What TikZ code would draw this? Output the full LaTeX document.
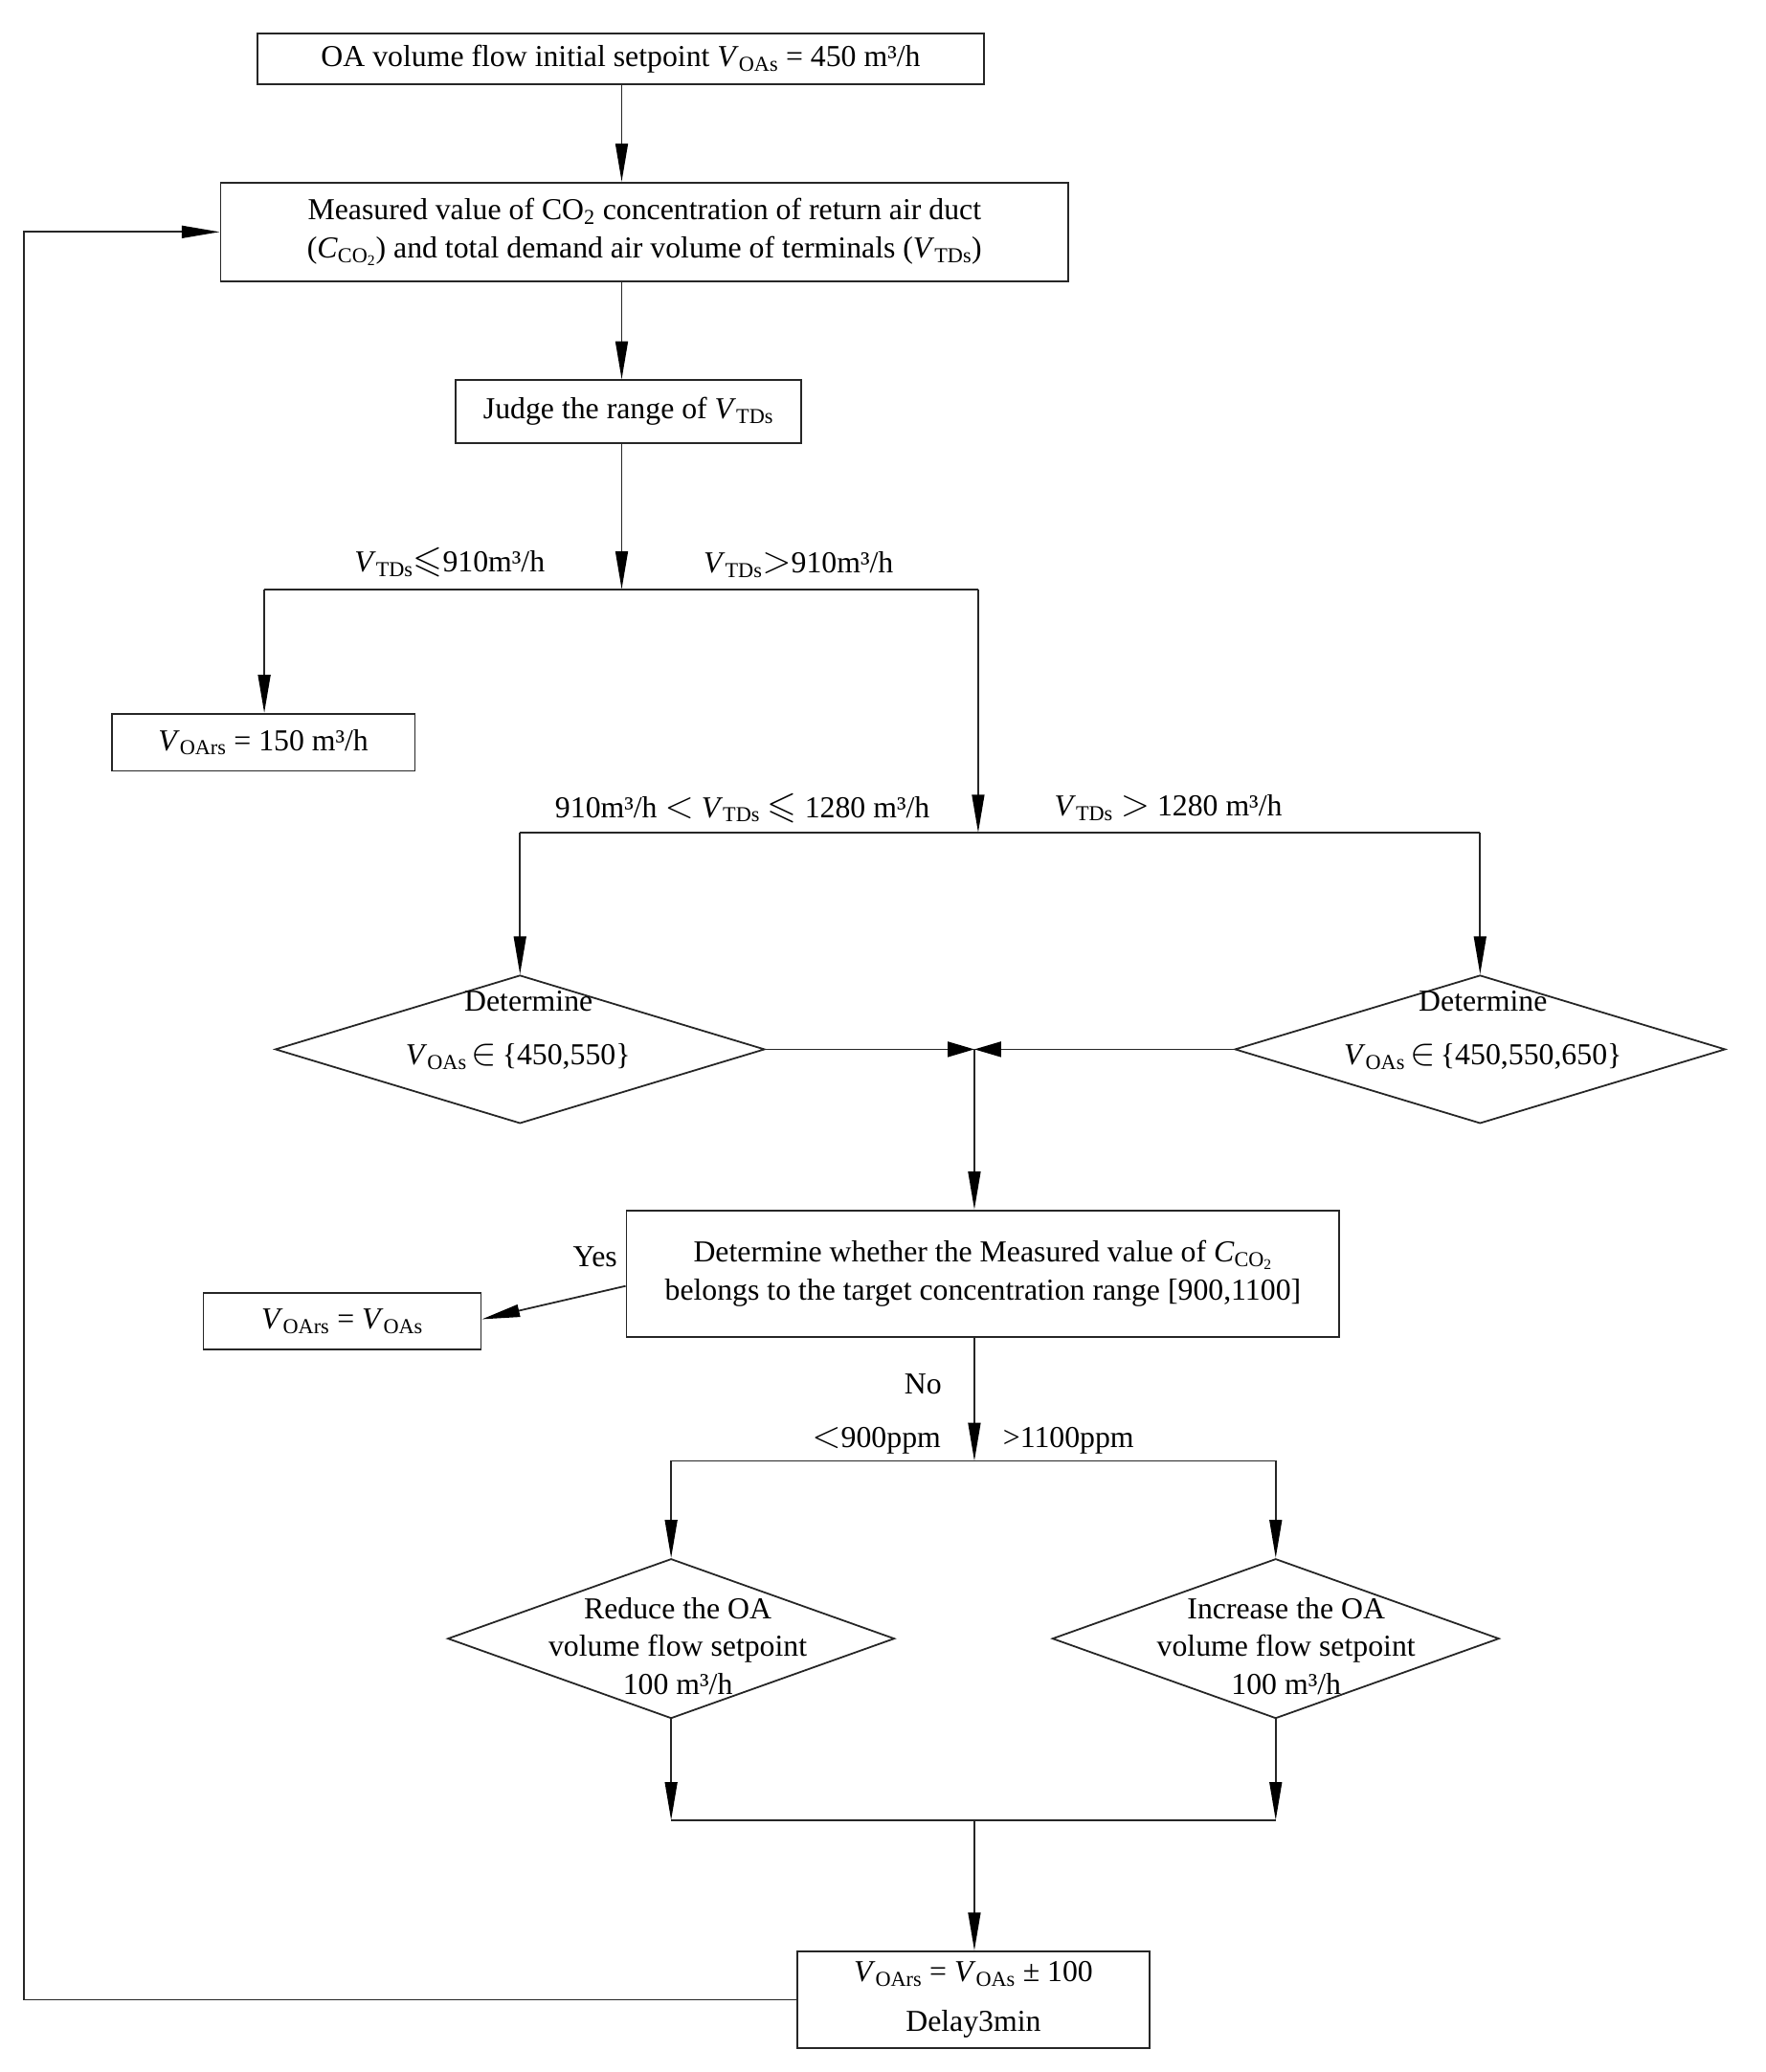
\RequirePackage{fix-cm}
\documentclass[tikz,border=0pt]{standalone}
\usepackage{fontspec}
\setmainfont{Liberation Serif}
\usepackage{amssymb}
\usetikzlibrary{shapes.geometric,arrows.meta}
\newcommand{\myV}[1]{\textit{V}\textsubscript{#1}}
\newcommand{\myC}{\textit{C}\textsubscript{CO\textsubscript{2}}}
\newcommand{\bigsym}[1]{{\fontsize{40}{40}\selectfont$#1$}}
\definecolor{linec}{gray}{0.15}
\begin{document}
\begin{tikzpicture}[x=1pt,y=-1pt,
  every node/.style={font=\fontsize{32}{40}\selectfont, align=center, inner sep=0pt},
  box/.style={draw=linec, line width=1.8pt, rectangle},
  dia/.style={draw=linec, line width=1.8pt, diamond},
  ln/.style={draw=linec, line width=1.8pt},
  arr/.style={draw=linec, line width=1.8pt, -{Triangle[length=40pt,width=13pt,color=black]}},
  sarr/.style={draw=linec, line width=1.8pt, -{Triangle[length=28pt,width=16pt,color=black]}}]
\useasboundingbox (0,0) rectangle (1857,2180);

% boxes
\node[box, minimum width=764pt, minimum height=54pt] (top) at (653,62)
  {OA volume flow initial setpoint \myV{OAs} = 450 m³/h};
\node[box, minimum width=892pt, minimum height=104pt] (meas) at (678,244)
  {Measured value of CO\textsubscript{2} concentration of return air duct\\
   (\myC) and total demand air volume of terminals (\myV{TDs})};
\node[box, minimum width=363pt, minimum height=66pt] (judge) at (661,433)
  {Judge the range of \myV{TDs}};
\node[box, minimum width=319pt, minimum height=60pt] (v150) at (277,781)
  {\myV{OArs} = 150 m³/h};

% diamonds 1
\node[dia, minimum width=515pt, minimum height=156pt] (d1) at (547,1104) {};
\node[dia, minimum width=516pt, minimum height=156pt] (d2) at (1557,1104) {};
\node (d1a) at (556,1053) {Determine};
\node (d1b) at (545,1112) {\myV{OAs}\,\bigsym{\in}\,\{450,550\}};
\node (d2a) at (1560,1053) {Determine};
\node (d2b) at (1560,1112) {\myV{OAs}\,\bigsym{\in}\,\{450,550,650\}};

% judge box
\node[box, minimum width=750pt, minimum height=133pt] (jb) at (1034,1340)
  {Determine whether the Measured value of \myC\\
   belongs to the target concentration range [900,1100]};
\node[box, minimum width=292pt, minimum height=59pt] (vv) at (360,1390)
  {\myV{OArs} = \myV{OAs}};

% diamonds 2
\node[dia, minimum width=470pt, minimum height=168pt] (r1) at (706,1724) {};
\node[dia, minimum width=470pt, minimum height=168pt] (r2) at (1342,1724) {};
\node (r1t) at (713,1732) {Reduce the OA\\volume flow setpoint\\100 m³/h};
\node (r2t) at (1353,1732) {Increase the OA\\volume flow setpoint\\100 m³/h};

% final box
\node[box, minimum width=371pt, minimum height=102pt] (fin) at (1024,2104)
  {\myV{OArs} = \myV{OAs} ± 100\\[12pt] Delay3min};

% labels
\node (l1) at (473,592) {\myV{TDs}\bigsym{\leqslant}910m³/h};
\node (l2) at (840,594) {\myV{TDs}\bigsym{>}910m³/h};
\node (l3) at (781,850) {910m³/h \bigsym{<} \myV{TDs} \bigsym{\leqslant} 1280 m³/h};
\node (l4) at (1229,850) {\myV{TDs} \bigsym{>} 1280 m³/h};
\node (yes) at (626,1322) {Yes};
\node (no) at (971,1456) {No};
\node (lt) at (922,1516) {\bigsym{<}900ppm};
\node (gt) at (1124,1516) {>1100ppm};

% junction coordinates
\coordinate (j1) at (654,620);
\coordinate (jL1) at (278,620);
\coordinate (jR1) at (1029,620);
\coordinate (j2) at (1029,876);
\coordinate (jL2) at (547,876);
\coordinate (jR2) at (1557,876);
\coordinate (jm) at (1025,1104);
\coordinate (j3) at (1025,1537);
\coordinate (jL3) at (706,1537);
\coordinate (jR3) at (1342,1537);
\coordinate (m1) at (706,1915);
\coordinate (m2) at (1342,1915);
\coordinate (jm4) at (1025,1915);
\coordinate (fb) at (25,1000);

% connectors
\draw[arr] (top.south -| j1) -- (j1 |- meas.north);
\draw[arr] (j1 |- meas.south) -- (j1 |- judge.north);
\draw[arr] (j1 |- judge.south) -- (j1);
\draw[ln] (jL1) -- (jR1);
\draw[arr] (jL1) -- (jL1 |- v150.north);
\draw[arr] (jR1) -- (j2);
\draw[ln] (jL2) -- (jR2);
\draw[arr] (jL2) -- (d1.north);
\draw[arr] (jR2) -- (d2.north);
\draw[sarr] (d1.east) -- (jm);
\draw[sarr] (d2.west) -- (jm);
\draw[arr] (jm) -- (jm |- jb.north);
\draw[arr] ([yshift=-13pt]jb.west) -- ([yshift=2pt]vv.east);
\draw[arr] (jm |- jb.south) -- (j3);
\draw[ln] (jL3) -- (jR3);
\draw[arr] (jL3) -- (r1.north);
\draw[arr] (jR3) -- (r2.north);
\draw[arr] (r1.south) -- (m1);
\draw[arr] (r2.south) -- (m2);
\draw[ln] (m1) -- (m2);
\draw[arr] (jm4) -- (jm4 |- fin.north);
\draw[arr] (fin.west) -| (fb) |- (meas.west);
\end{tikzpicture}
\end{document}
